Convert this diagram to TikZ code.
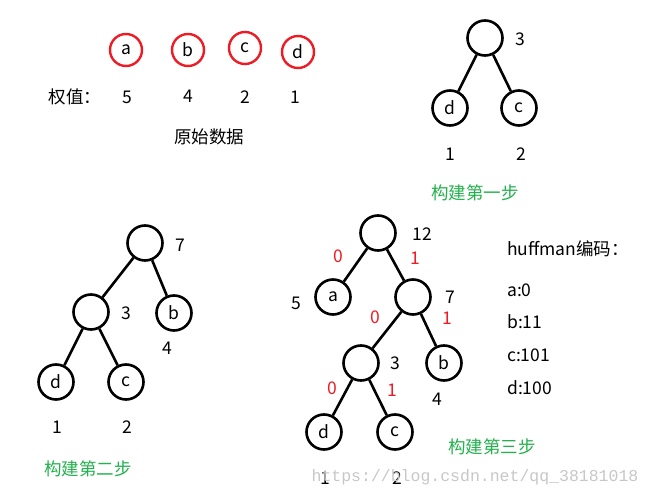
\documentclass[tikz,border=0pt]{standalone}
\usepackage{fontspec}
\setmainfont{Noto Sans CJK SC}
\newfontfamily\markfont{Liberation Mono}
\usetikzlibrary{positioning}

\definecolor{paintred}{RGB}{237,28,36}
\definecolor{paintgreen}{RGB}{34,177,76}

\tikzset{
  letra/.style={circle, draw=paintred, line width=2.4pt, minimum size=32pt, inner sep=0pt},
  no/.style={circle, draw, line width=2.6pt, minimum size=35pt, inner sep=0pt},
  peso/.style={inner sep=0pt},
  bit/.style={inner sep=0pt, text=paintred},
  passo/.style={inner sep=0pt, text=paintgreen},
}

\begin{document}
\begin{tikzpicture}[x=1pt, y=-1pt, on grid, font=\fontsize{17.5}{20}\selectfont]
   \useasboundingbox (0,0) rectangle (651,497);

   % Dados originais
   \node[letra] (ta) at (126,50) {a};
   \node[letra] (tb) at (188,50) {b};
   \node[letra] (tc) at (245,48) {c};
   \node[letra] (td) at (298,52) {d};
   \node[peso] (rotulo) at (75,97) {权值：};
   \node[peso] (pa) at (127,97) {5};
   \node[peso] (pb) at (188,96) {4};
   \node[peso] (pc) at (245,97) {2};
   \node[peso] (pd) at (295,97) {1};
   \node[peso] (titulo0) at (209,137) {原始数据};

   % Primeiro passo
   \node[no] (u1) at (485,38) {};
   \node[no] (u1d) [below left=70pt and 35pt of u1] {d};
   \node[no] (u1c) [below right=70pt and 34pt of u1] {c};
   \node[peso] at (520,39) {3};
   \node[peso] at (450,154) {1};
   \node[peso] at (521,154) {2};
   \node[passo] (titulo1) at (475,193) {构建第一步};
   \path[draw, line width=2.6pt]
    (u1) edge (u1d)
         edge (u1c);

   % Segundo passo
   \node[no] (d1) at (145,243) {};
   \node[no] (d3) [below left=69pt and 54pt of d1] {};
   \node[no] (d1b) [below right=70pt and 29pt of d1] {b};
   \node[no] (d3d) [below left=70pt and 35pt of d3] {d};
   \node[no] (d3c) [below right=70pt and 35pt of d3] {c};
   \node[peso] at (180,245) {7};
   \node[peso] at (126,313) {3};
   \node[peso] at (167,348) {4};
   \node[peso] at (57,427) {1};
   \node[peso] at (127,427) {2};
   \node[passo] (titulo2) at (88,469) {构建第二步};
   \path[draw, line width=2.6pt]
    (d1) edge (d3)
         edge (d1b)
    (d3) edge (d3d)
         edge (d3c);

   % Terceiro passo
   \node[no] (t12) at (378,233) {};
   \node[no] (t12a) [below left=64pt and 45pt of t12] {a};
   \node[no] (t7) [below right=64pt and 35pt of t12] {};
   \node[no] (t3) [below left=66pt and 52pt of t7] {};
   \node[no] (t7b) [below right=66pt and 31pt of t7] {b};
   \node[no] (t3d) [below left=69pt and 37pt of t3] {d};
   \node[no] (t3c) [below right=69pt and 34pt of t3] {c};
   \node[peso] at (422,234) {12};
   \node[peso] at (296,303) {5};
   \node[peso] at (450,297) {7};
   \node[peso] at (395,363) {3};
   \node[peso] at (437,399) {4};
   \node[peso] at (325,478) {1};
   \node[peso] at (397,478) {2};
   \node[bit] at (338,256) {0};
   \node[bit] at (415,258) {1};
   \node[bit] at (375,317) {0};
   \node[bit] at (447,318) {1};
   \node[bit] at (332,388) {0};
   \node[bit] at (392,390) {1};
   \node[passo] (titulo3) at (492,447) {构建第三步};
   \path[draw, line width=2.6pt]
    (t12) edge (t12a)
          edge (t7)
    (t7) edge (t3)
         edge (t7b)
    (t3) edge (t3d)
         edge (t3c);

   % Codigos
   \node[peso, anchor=west] (cab) at (507,249) {huffman编码：};
   \node[peso, anchor=west] (ca) at (507,290) {a:0};
   \node[peso, anchor=west] (cb) at (507,322) {b:11};
   \node[peso, anchor=west] (cc) at (507,355) {c:101};
   \node[peso, anchor=west] (cd) at (507,388) {d:100};

   % Marca d'agua
   \node[peso, text=black!22, font=\markfont\fontsize{16.5}{18}\selectfont] (marca) at (475,477) {https://blog.csdn.net/qq\_38181018};
\end{tikzpicture}
\end{document}
